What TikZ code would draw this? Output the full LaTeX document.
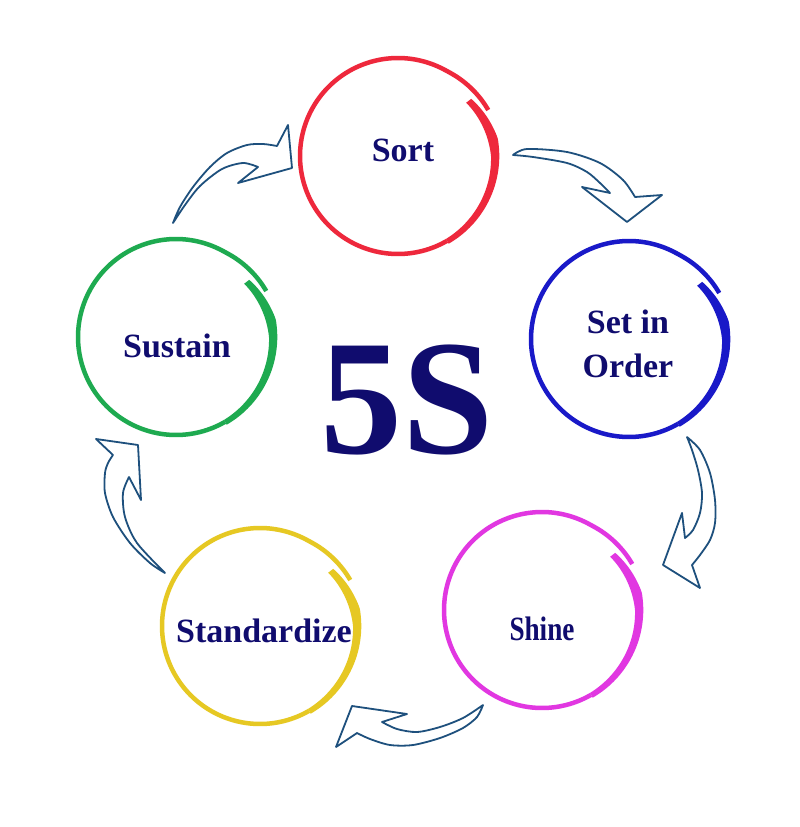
\documentclass[tikz,border=0pt]{standalone}
\usepackage{fontspec}
\setmainfont{Liberation Serif}
\definecolor{navy}{HTML}{100C6E}
\definecolor{arrowblue}{HTML}{1E507D}
\definecolor{cred}{HTML}{EE283C}
\definecolor{cblue}{HTML}{1919C8}
\definecolor{cmag}{HTML}{E137E1}
\definecolor{cyel}{HTML}{E6C823}
\definecolor{cgreen}{HTML}{1EAA50}
\newcommand\brushcircle[2]{%
  \begin{scope}[shift={(#1)}, yscale=-1]
    \draw[#2, line width=4.5pt] plot[smooth, domain=27:300, samples=70] (\x:{98+max(0,60-\x)*0.1});
    \fill[#2] plot[domain=38:-60, samples=60] (\x:{101.3-max(0,\x-10)*0.3})
      -- plot[domain=-60:38, samples=60] (\x:{93+max(0,-\x)*0.047-max(0,\x)*0.17}) -- cycle;
  \end{scope}}
\tikzset{
  cyc/.style={draw=arrowblue, line width=1.8pt, line join=round},
  lbl/.style={text=navy, font=\fontsize{34}{40}\selectfont\bfseries, anchor=base, inner sep=0pt}
}
\begin{document}
\begin{tikzpicture}[x=1pt,y=-1pt]
\useasboundingbox[fill=white] (0,0) rectangle (800,827);
% circle centres
\coordinate (sort) at (398,156);
\coordinate (setorder) at (629,339);
\coordinate (shine) at (542,610);
\coordinate (standard) at (260,626);
\coordinate (sustain) at (176,337);
\brushcircle{sort}{cred}
\brushcircle{setorder}{cblue}
\brushcircle{shine}{cmag}
\brushcircle{standard}{cyel}
\brushcircle{sustain}{cgreen}
% labels
\node[lbl] (tsort) at (403,161) {Sort};
\node[lbl] (tsustain) at (177,357) {Sustain};
\node[lbl] (tset) at (628,333) {Set in};
\node[lbl] (torder) at (628,377) {Order};
\node[lbl, xscale=0.8] (tshine) at (542,640) {Shine};
\node[lbl] (tstd) at (264,642) {Standardize};
\node[text=navy, font=\fontsize{164}{164}\selectfont\bfseries, anchor=base, inner sep=0pt] (five) at (407,453) {5S};
% arrows
\draw[cyc] plot[smooth] coordinates {(173,223) (180,207) (193,187) (210,167) (227,153) (247,145) (263,144) (277,146)}
  -- (288,125) -- (292,168) -- (238,183) -- (258,167)
  -- plot[smooth] coordinates {(258,167) (243,163) (222,169) (200,186) (185,205) (173,223)} -- cycle;
\draw[cyc] plot[smooth] coordinates {(513,155) (527,149) (567,152) (600,163) (623,180) (635,197)}
  -- (662,195) -- (627,222) -- (582,187) -- (610,193)
  -- plot[smooth] coordinates {(610,193) (600,183) (587,172) (567,163) (533,157) (513,155)} -- cycle;
\draw[cyc] plot[smooth] coordinates {(687,437) (700,450) (710,473) (715,500) (715,523) (710,540) (700,555) (692,565)}
  -- (700,588) -- (663,565) -- (682,513) -- (685,538)
  -- plot[smooth] coordinates {(685,538) (693,530) (700,513) (702,493) (698,470) (692,450) (687,437)} -- cycle;
\draw[cyc] plot[smooth] coordinates {(483,705) (477,717) (463,728) (440,738) (413,745) (390,745) (370,739) (357,733)}
  -- (336,747) -- (352,706) -- (407,714) -- (382,722)
  -- plot[smooth] coordinates {(382,722) (397,729) (417,732) (440,727) (463,718) (483,705)} -- cycle;
\draw[cyc] plot[smooth] coordinates {(165,573) (150,563) (130,543) (113,517) (105,493) (105,473) (108,463) (113,455)}
  -- (96,439) -- (138,445) -- (141,500) -- (129,477)
  -- plot[smooth] coordinates {(129,477) (123,493) (125,517) (137,543) (165,573)} -- cycle;
\end{tikzpicture}
\end{document}
